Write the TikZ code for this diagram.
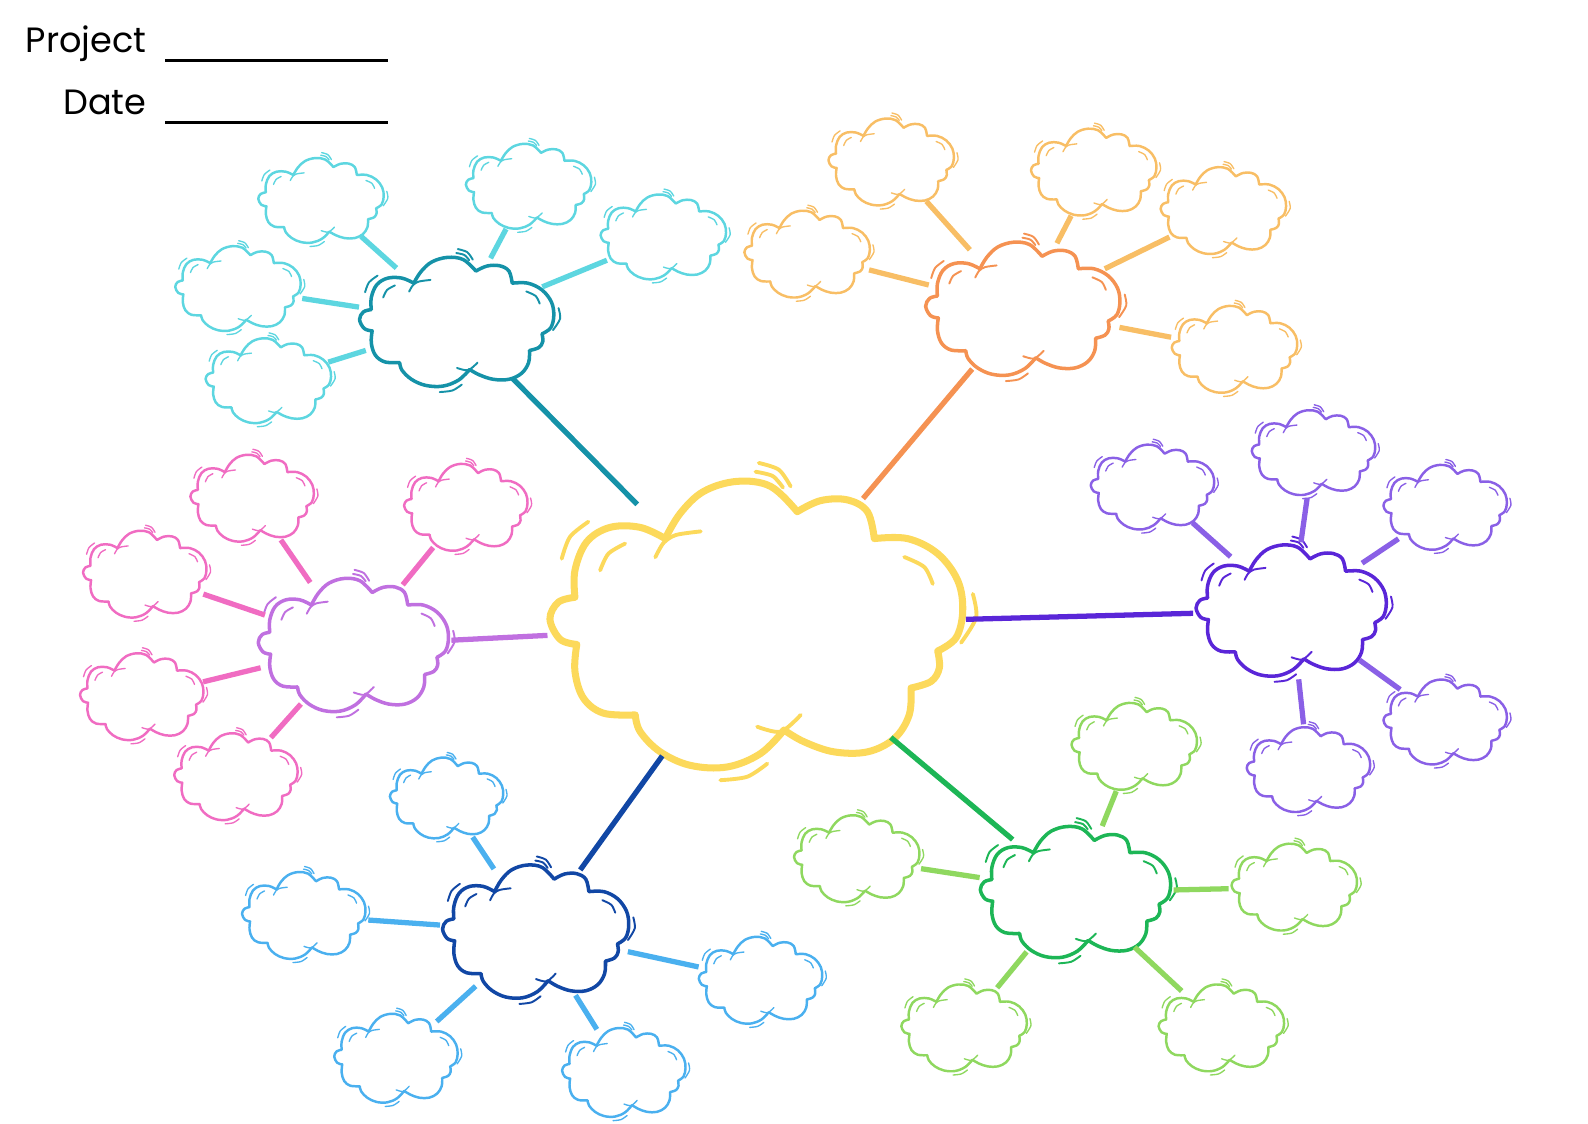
\documentclass[tikz,border=0pt]{standalone}
\usepackage{fontspec}
\setmainfont{Poppins}
\usetikzlibrary{shapes.geometric}

\definecolor{sun}{HTML}{FCD95B}
\definecolor{tealD}{HTML}{1592A8}
\definecolor{tealL}{HTML}{5DD6E0}
\definecolor{orangeD}{HTML}{F59252}
\definecolor{orangeL}{HTML}{F8BE65}
\definecolor{violetD}{HTML}{5A26D8}
\definecolor{violetL}{HTML}{8A60E6}
\definecolor{greenD}{HTML}{1DB656}
\definecolor{greenL}{HTML}{8FD85F}
\definecolor{blueD}{HTML}{1147A5}
\definecolor{blueL}{HTML}{4AB0EF}
\definecolor{lilacD}{HTML}{C070E0}
\definecolor{pinkL}{HTML}{F06CC2}

\tikzset{
  spot/.style={shape=ellipse, draw=none, inner sep=0pt},
  link/.style={draw=#1, line width=3pt, shorten <=1.5pt, shorten >=1.5pt},
  field/.style={anchor=base east, inner sep=0pt, font=\fontsize{20}{22}\selectfont}
}

% outline of one cloud, in units of its half width and half height
\newcommand{\cloudline}{%
  plot[smooth, tension=0.6] coordinates {(-0.87,0.136) (-0.951,0.1) (-1.0,-0.04) (-0.96,-0.157) (-0.879,-0.192)}
  -- plot[smooth, tension=0.6] coordinates {(-0.879,-0.192) (-0.879,-0.379) (-0.822,-0.577) (-0.709,-0.678) (-0.563,-0.678) (-0.442,-0.60)}
  -- plot[smooth, tension=0.6] coordinates {(-0.442,-0.60) (-0.369,-0.776) (-0.256,-0.928) (-0.094,-0.998) (0.068,-0.963) (0.197,-0.787)}
  -- plot[smooth, tension=0.6] coordinates {(0.197,-0.787) (0.31,-0.864) (0.44,-0.869) (0.537,-0.787) (0.57,-0.60)}
  -- plot[smooth, tension=0.6] coordinates {(0.57,-0.60) (0.731,-0.60) (0.877,-0.495) (0.974,-0.308) (0.998,-0.098) (0.966,0.089) (0.877,0.182)}
  -- plot[smooth, tension=0.6] coordinates {(0.877,0.182) (0.885,0.299) (0.845,0.393) (0.748,0.439)}
  -- plot[smooth, tension=0.6] coordinates {(0.748,0.439) (0.739,0.626) (0.667,0.79) (0.537,0.883) (0.375,0.883) (0.23,0.813) (0.133,0.731)}
  -- plot[smooth, tension=0.6] coordinates {(0.133,0.731) (0.019,0.895) (-0.142,0.988) (-0.32,0.977) (-0.466,0.883) (-0.563,0.743) (-0.587,0.626)}
  -- plot[smooth, tension=0.6] coordinates {(-0.587,0.626) (-0.741,0.614) (-0.838,0.509) (-0.879,0.322) (-0.87,0.136)}
  -- cycle}
% the little strokes round a cloud
\newcommand{\cloudmarks}{%
  plot[smooth] coordinates {(0.011,-1.126) (0.108,-1.079) (0.165,-0.963)}
  plot[smooth] coordinates {(-0.005,-1.065) (0.078,-1.035) (0.128,-0.955)}
  plot[smooth] coordinates {(-0.814,-0.717) (-0.903,-0.612) (-0.943,-0.46)}
  plot[smooth] coordinates {(-0.636,-0.565) (-0.717,-0.495) (-0.757,-0.379)}
  plot[smooth] coordinates {(-0.49,-0.47) (-0.45,-0.57) (-0.39,-0.625) (-0.27,-0.65)}
  plot[smooth] coordinates {(0.715,-0.472) (0.812,-0.402) (0.853,-0.285)}
  plot[smooth] coordinates {(1.047,-0.215) (1.063,-0.051) (0.99,0.124)}
  plot[smooth] coordinates {(0.003,0.708) (0.117,0.743) (0.214,0.626)}
  plot[smooth] coordinates {(-0.175,1.08) (-0.045,1.056) (0.052,0.965)}}
% #1 name, #2 colour, #3 centre, #4 half width, #5 half height, #6 line width
\newcommand{\puffcloud}[6]{%
  \node[spot, minimum width={2*#4*0.02026cm}, minimum height={2*#5*0.02026cm}] (#1) at #3 {};
  \begin{scope}[shift={(#1.center)}, x={(#4*0.02026cm,0)}, y={(0,-#5*0.02026cm)}, line join=round, line cap=round]
    \draw[draw=#2, line width=#6, fill=white] \cloudline;
    \draw[draw=#2, line width=0.55*#6] \cloudmarks;
  \end{scope}}

\begin{document}
\begin{tikzpicture}[x=0.02026cm, y=-0.02026cm]
	\useasboundingbox (0, 0) rectangle (1568, 1109);
	% Header:
	\node[field] (project) at (145, 52){Project};
	\node[field] (date) at (145, 113){Date};
	\coordinate (pl) at (163, 60);
	\coordinate (pr) at (383, 60);
	\coordinate (dl) at (163, 121);
	\coordinate (dr) at (383, 121);
	\draw[line width=1.7pt] (pl) -- (pr);
	\draw[line width=1.7pt] (dl) -- (dr);
	% Central cloud:
	\puffcloud{C}{sun}{(747, 617)}{204}{142}{4pt}
	% Teal branch:
	\puffcloud{T}{tealD}{(451, 318)}{96}{64}{2pt}
	\puffcloud{T1}{tealL}{(317, 198)}{62}{42}{1.4pt}
	\puffcloud{T2}{tealL}{(522, 184)}{62}{42}{1.4pt}
	\puffcloud{T3}{tealL}{(655, 234)}{62}{42}{1.4pt}
	\puffcloud{T4}{tealL}{(235, 285)}{62}{42}{1.4pt}
	\puffcloud{T5}{tealL}{(265, 376)}{62}{42}{1.4pt}
	\draw[link=tealD] (T) -- (C);
	\draw[link=tealL] (T) -- (T1);
	\draw[link=tealL] (T) -- (T2);
	\draw[link=tealL] (T) -- (T3);
	\draw[link=tealL] (T) -- (T4);
	\draw[link=tealL] (T) -- (T5);
	% Orange branch:
	\puffcloud{O}{orangeD}{(1010, 305)}{96}{66}{2pt}
	\puffcloud{O1}{orangeL}{(880, 160)}{62}{43}{1.4pt}
	\puffcloud{O2}{orangeL}{(797, 251)}{62}{43}{1.4pt}
	\puffcloud{O3}{orangeL}{(1080, 170)}{62}{43}{1.4pt}
	\puffcloud{O4}{orangeL}{(1208, 208)}{62}{43}{1.4pt}
	\puffcloud{O5}{orangeL}{(1219, 345)}{62}{43}{1.4pt}
	\draw[link=orangeD] (O) -- (C);
	\draw[link=orangeL] (O) -- (O1);
	\draw[link=orangeL] (O) -- (O2);
	\draw[link=orangeL] (O) -- (O3);
	\draw[link=orangeL] (O) -- (O4);
	\draw[link=orangeL] (O) -- (O5);
	% Violet branch:
	\puffcloud{V}{violetD}{(1275, 603)}{94}{65}{2pt}
	\puffcloud{V1}{violetL}{(1138, 481)}{61}{42}{1.4pt}
	\puffcloud{V2}{violetL}{(1297, 447)}{61}{42}{1.4pt}
	\puffcloud{V3}{violetL}{(1427, 501)}{61}{42}{1.4pt}
	\puffcloud{V4}{violetL}{(1427, 713)}{61}{42}{1.4pt}
	\puffcloud{V5}{violetL}{(1292, 760)}{61}{42}{1.4pt}
	\draw[link=violetD] (V) -- (C);
	\draw[link=violetL] (V) -- (V1);
	\draw[link=violetL] (V) -- (V2);
	\draw[link=violetL] (V) -- (V3);
	\draw[link=violetL] (V) -- (V4);
	\draw[link=violetL] (V) -- (V5);
	% Green branch:
	\puffcloud{G}{greenD}{(1062, 881)}{94}{65}{2pt}
	\puffcloud{G1}{greenL}{(1120, 737)}{62}{43}{1.4pt}
	\puffcloud{G2}{greenL}{(846, 848)}{62}{43}{1.4pt}
	\puffcloud{G3}{greenL}{(1278, 876)}{62}{43}{1.4pt}
	\puffcloud{G4}{greenL}{(952, 1015)}{62}{43}{1.4pt}
	\puffcloud{G5}{greenL}{(1206, 1015)}{62}{43}{1.4pt}
	\draw[link=greenD] (G) -- (C);
	\draw[link=greenL] (G) -- (G1);
	\draw[link=greenL] (G) -- (G2);
	\draw[link=greenL] (G) -- (G3);
	\draw[link=greenL] (G) -- (G4);
	\draw[link=greenL] (G) -- (G5);
	% Blue branch:
	\puffcloud{B}{blueD}{(529, 920)}{92}{66}{2pt}
	\puffcloud{B1}{blueL}{(441, 788)}{56}{40}{1.4pt}
	\puffcloud{B2}{blueL}{(300, 904)}{61}{43}{1.4pt}
	\puffcloud{B3}{blueL}{(751, 968)}{61}{43}{1.4pt}
	\puffcloud{B4}{blueL}{(391, 1045)}{61}{44}{1.4pt}
	\puffcloud{B5}{blueL}{(616, 1059)}{61}{44}{1.4pt}
	\draw[link=blueD] (B) -- (C);
	\draw[link=blueL] (B) -- (B1);
	\draw[link=blueL] (B) -- (B2);
	\draw[link=blueL] (B) -- (B3);
	\draw[link=blueL] (B) -- (B4);
	\draw[link=blueL] (B) -- (B5);
	% Pink branch:
	\puffcloud{P}{lilacD}{(349, 637)}{94}{66}{2pt}
	\puffcloud{P1}{pinkL}{(249, 492)}{61}{43}{1.4pt}
	\puffcloud{P2}{pinkL}{(460, 501)}{61}{43}{1.4pt}
	\puffcloud{P3}{pinkL}{(143, 567)}{61}{43}{1.4pt}
	\puffcloud{P4}{pinkL}{(140, 688)}{61}{43}{1.4pt}
	\puffcloud{P5}{pinkL}{(233, 767)}{61}{43}{1.4pt}
	\draw[link=lilacD] (P) -- (C);
	\draw[link=pinkL] (P) -- (P1);
	\draw[link=pinkL] (P) -- (P2);
	\draw[link=pinkL] (P) -- (P3);
	\draw[link=pinkL] (P) -- (P4);
	\draw[link=pinkL] (P) -- (P5);
\end{tikzpicture}
\end{document}
